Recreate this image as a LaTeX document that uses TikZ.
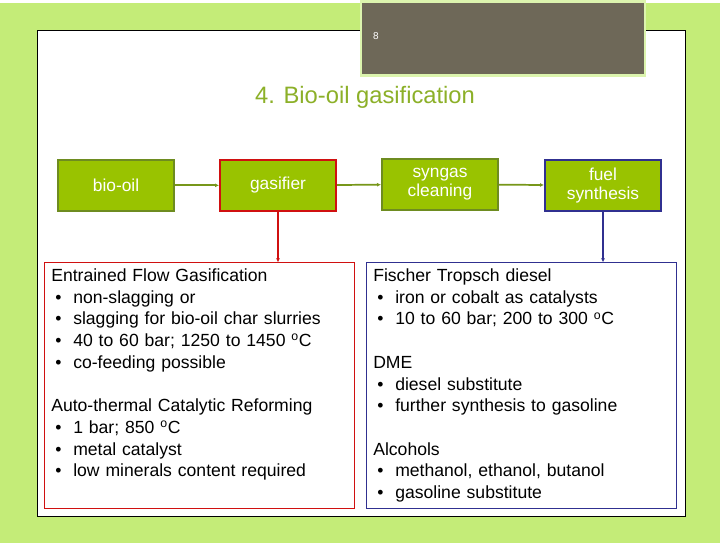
\documentclass[tikz,border=0pt]{standalone}
\usepackage{fontspec}
\setmainfont{Liberation Sans}
\definecolor{bg}{HTML}{C4EC78}
\definecolor{bfill}{HTML}{99C300}
\definecolor{bline}{HTML}{6E8C20}
\definecolor{ttl}{HTML}{8CB028}
\definecolor{grey}{HTML}{6E6858}
\definecolor{rd}{HTML}{D01010}
\definecolor{bl}{HTML}{303090}
\newcommand{\bt}{\makebox[16.5pt][l]{\hspace{3pt}\textbullet}}
\begin{document}
\begin{tikzpicture}[x=0.75pt,y=-0.75pt,
 proc/.style={draw=bline,line width=1.5pt,fill=bfill,text=white,font=\fontsize{13}{14.5}\selectfont,align=center,minimum width=87pt,minimum height=38pt,inner sep=0pt},
 flow/.style={draw=bline!80!bfill,line width=1.3pt,-{Latex[length=3pt,width=3pt]}},
 info/.style={anchor=north west,align=left,font=\fontsize{13.2}{16.3}\selectfont,text width=225pt,inner sep=0pt}]
\usetikzlibrary{arrows.meta}
\fill[bg] (0,0) rectangle (720,540);
\draw[black,fill=white,line width=0.6pt] (37,27) rectangle (685,513);
\draw[bg!60!white,line width=2pt,fill=grey] (361,-2) rectangle (645,72);
\node[text=white,font=\fontsize{7.5}{8}\selectfont] (pg) at (376,33) {8};
\node[text=ttl,font=\fontsize{17.8}{19}\selectfont] (title) at (365,94) {4. Bio-oil gasification};
\node[proc] (bio) at (116,182) {bio-oil};
\node[proc,draw=rd] (gas) at (278,182) {gasifier};
\node[proc] (syn) at (440,181) {syngas\\cleaning};
\node[proc,draw=bl] (fuel) at (603,182) {fuel\\synthesis};
\draw[flow] (bio) -- (gas);
\draw[flow] (gas) -- (syn);
\draw[flow] (syn) -- (fuel);
\node[draw=rd,line width=0.6pt,minimum width=232.5pt,minimum height=184pt,anchor=north west,inner sep=0pt] (lb) at (44,259) {};
\node[draw=bl,line width=0.6pt,minimum width=232.5pt,minimum height=184pt,anchor=north west,inner sep=0pt] (rb) at (366,259) {};
\draw[rd,line width=0.8pt,-{Latex[length=3pt,width=3pt]}] (gas.south) -- (lb.north -| gas.south);
\draw[bl,line width=0.8pt,-{Latex[length=3pt,width=3pt]}] (fuel.south) -- (rb.north -| fuel.south);
\node[info] (lt) at (51,265) {Entrained Flow Gasification\\
\bt non-slagging or\\
\bt slagging for bio-oil char slurries\\
\bt 40 to 60 bar; 1250 to 1450 \textsuperscript{o}C\\
\bt co-feeding possible\\[16.3pt]
Auto-thermal Catalytic Reforming\\
\bt 1 bar; 850 \textsuperscript{o}C\\
\bt metal catalyst\\
\bt low minerals content required};
\node[info] (rt) at (373,265) {Fischer Tropsch diesel\\
\bt iron or cobalt as catalysts\\
\bt 10 to 60 bar; 200 to 300 \textsuperscript{o}C\\[16.3pt]
DME\\
\bt diesel substitute\\
\bt further synthesis to gasoline\\[16.3pt]
Alcohols\\
\bt methanol, ethanol, butanol\\
\bt gasoline substitute};
\end{tikzpicture}
\end{document}
